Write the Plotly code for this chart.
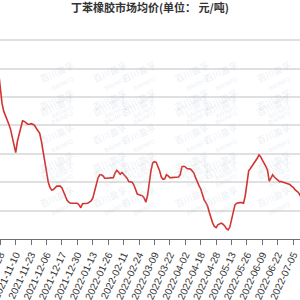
import plotly.graph_objects as go

# Tick labels: every 9th trading day (category axis of trading days)
tick_labels = ["2021-10-28", "2021-11-10", "2021-11-23", "2021-12-06", "2021-12-17",
               "2021-12-30", "2022-01-13", "2022-01-26", "2022-02-11", "2022-02-24",
               "2022-03-09", "2022-03-22", "2022-04-02", "2022-04-18", "2022-04-28",
               "2022-05-13", "2022-05-26", "2022-06-09", "2022-06-22", "2022-07-05",
               "2022-07-18"]

# Average price (yuan/ton), one value per trading day, starting at trading day index -1
first_day = -1
prices = [13940, 13670, 13390, 13250, 13180, 13110, 13020, 12930, 12810, 12690,
          12520, 12720, 12860, 12970, 13080, 13070, 13040, 13020, 13020, 13030,
          13020, 13000, 12950, 12910, 12860, 12720, 12530, 12340, 12140, 12000,
          11910, 11860, 11870, 11900, 11930, 11930, 11930, 11900, 11830, 11740,
          11680, 11650, 11630, 11630, 11630, 11630, 11630, 11600, 11550, 11620,
          11620, 11630, 11630, 11650, 11670, 11720, 11830, 11950, 12070, 12130,
          12130, 12110, 12070, 12070, 12070, 12070, 12070, 12080, 12160, 12210,
          12180, 12140, 12170, 12140, 12110, 12070, 12010, 12000, 12000, 11950,
          11860, 11790, 11780, 11770, 11760, 11720, 11650, 11770, 12020, 12210,
          12340, 12360, 12350, 12280, 12200, 12090, 12050, 12060, 12130, 12110,
          12080, 12080, 12080, 12080, 12080, 12090, 12130, 12270, 12280, 12270,
          12240, 12230, 12230, 12200, 12160, 12080, 12000, 11940, 11880, 11760,
          11690, 11640, 11580, 11470, 11370, 11280, 11220, 11200, 11250, 11260,
          11280, 11260, 11230, 11180, 11160, 11210, 11330, 11470, 11600, 11630,
          11640, 11640, 11640, 11630, 11760, 12040, 12200, 12240, 12280, 12330,
          12360, 12420, 12480, 12450, 12390, 12340, 12280, 12210, 12020, 12070,
          12130, 12090, 12060, 12030, 12010, 12010, 12000, 12000, 11990, 11980,
          11960, 11930, 11910, 11870, 11840, 11820, 11770, 11700]

days = list(range(first_day, first_day + len(prices)))
tick_pos = [9 * k for k in range(len(tick_labels))]

title_text = "丁苯橡胶市场均价(单位： 元/吨)"

fig = go.Figure()
fig.add_trace(go.Scatter(
    x=days, y=prices, mode="lines",
    line=dict(color="#d23431", width=1.6),
    hoverinfo="skip", showlegend=False,
))

# faint watermarks
wm = []
for r, yy in enumerate([25, 67, 108, 150, 192, 234, 276]):
    for xx in [35, 88, 141, 194, 247, 300]:
        wm.append(dict(
            x=xx / 300, y=1 - yy / 300, xref="paper", yref="paper",
            text="百川盈孚<br><span style='font-size:6px'>BAIINFO</span>",
            showarrow=False, textangle=-25,
            font=dict(size=9, color="rgba(170,185,210,0.25)",
                      family="Noto Sans CJK SC"),
        ))

fig.update_layout(
    width=300, height=300,
    margin=dict(l=0, r=0, t=39, b=61, autoexpand=False),
    paper_bgcolor="white", plot_bgcolor="white",
    title=dict(text=title_text, x=0.5, xanchor="center", y=1 - 8 / 300,
               yanchor="middle",
               font=dict(size=11, color="#333333", family="Noto Sans CJK SC",
                         weight="bold")),
    annotations=wm,
    xaxis=dict(
        range=[-0.165, 174.96], automargin=False,
        tickmode="array", tickvals=tick_pos, ticktext=tick_labels,
        tickangle=-65, ticklabeloverflow="allow",
        tickfont=dict(size=10, color="#333333", family="Liberation Sans"),
        showgrid=False, zeroline=False,
        showline=True, linecolor="#6e7079", linewidth=1,
        ticks="outside", ticklen=5, tickcolor="#6e7079",
    ),
    yaxis=dict(
        range=[11000, 14520], dtick=500, tick0=11000, automargin=False,
        showticklabels=False, showgrid=True, gridcolor="#e0e0e0",
        gridwidth=1.5, zeroline=False, showline=False,
    ),
)

fig.write_html("out.html")
